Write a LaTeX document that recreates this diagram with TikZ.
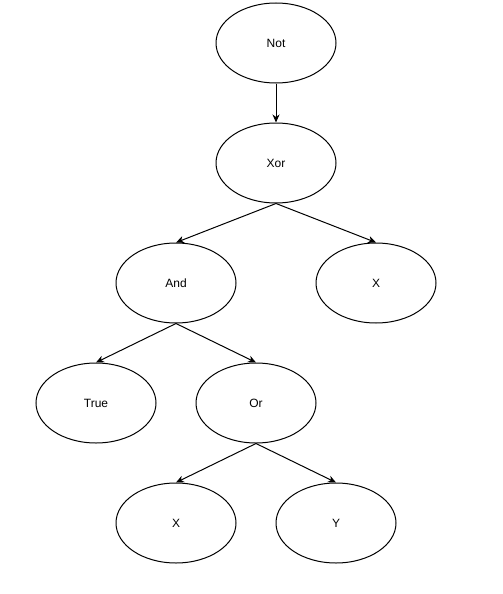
\documentclass[tikz,border=0pt]{standalone}
\usepackage{fontspec}
\setmainfont{Liberation Sans}
\usetikzlibrary{arrows.meta,shapes.geometric}
\begin{document}
\begin{tikzpicture}[x=1pt,y=-1pt,
  oval/.style={draw=black,line width=1pt,ellipse,minimum width=120pt,minimum height=80pt,inner sep=0pt,font=\fontsize{12}{14}\selectfont},
  edge/.style={draw=black,line width=1pt,-{Stealth[length=8pt,width=7pt,inset=2.5pt]}}]
\useasboundingbox (0,0) rectangle (503,594);
\node[oval] (not) at (276,43) {Not};
\node[oval] (xor) at (276,163) {Xor};
\node[oval] (and) at (176,283) {And};
\node[oval] (x1) at (376,283) {X};
\node[oval] (true) at (96,403) {True};
\node[oval] (or) at (256,403) {Or};
\node[oval] (x2) at (176,523) {X};
\node[oval] (y) at (336,523) {Y};
\draw[edge] (not.south) -- (xor.north);
\draw[edge] (xor.south) -- (and.north);
\draw[edge] (xor.south) -- (x1.north);
\draw[edge] (and.south) -- (true.north);
\draw[edge] (and.south) -- (or.north);
\draw[edge] (or.south) -- (x2.north);
\draw[edge] (or.south) -- (y.north);
\end{tikzpicture}
\end{document}
